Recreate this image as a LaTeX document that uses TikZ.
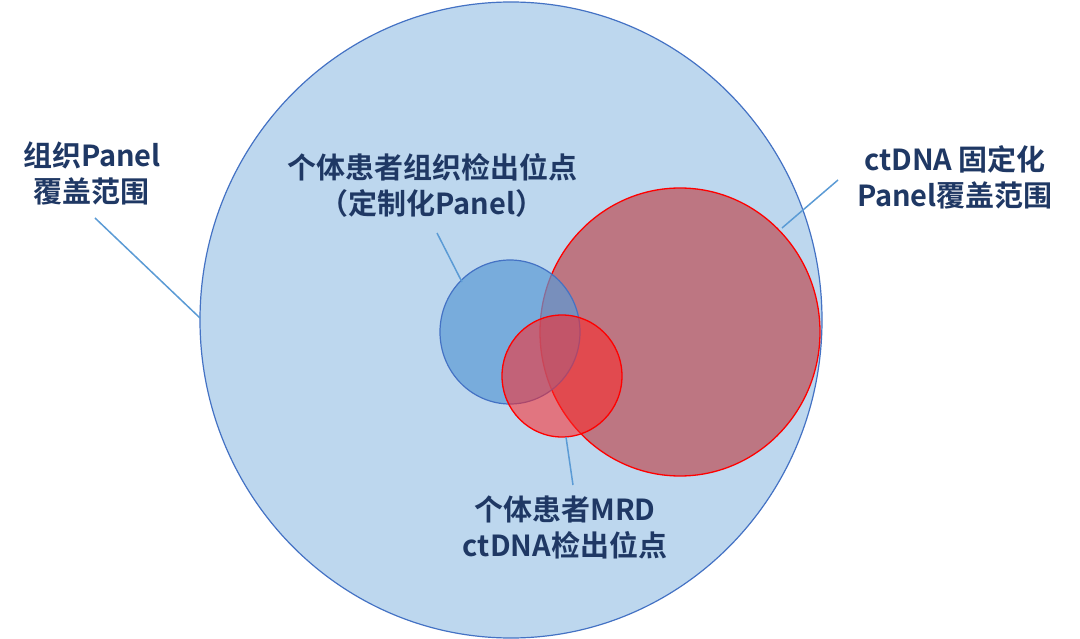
\documentclass[tikz,border=0pt]{standalone}
\usepackage{fontspec}
\setmainfont{Noto Sans CJK SC}[BoldFont={* Bold}]
\begin{document}
\begin{tikzpicture}[x=1pt,y=-1pt,
  lbl/.style={font=\bfseries\fontsize{29}{36}\selectfont,text=navy,align=center,inner sep=0},
  lead/.style={draw=lineblue,line width=1.5pt}]
\definecolor{navy}{HTML}{1F3864}
\definecolor{lightblue}{HTML}{BDD7EE}
\definecolor{edgeblue}{HTML}{4472C4}
\definecolor{lineblue}{HTML}{5B9BD5}
\useasboundingbox (0,0) rectangle (1080,639);
\fill[white] (0,0) rectangle (1080,639);
\draw[edgeblue,fill=lightblue,line width=1.2pt] (511,320) ellipse [x radius=311,y radius=318];
\draw[red,fill=red!75!black,fill opacity=0.45,line width=1.3pt] (680,332) ellipse [x radius=140,y radius=144];
\draw[edgeblue,fill=lineblue,fill opacity=0.7,line width=1.2pt] (510,332) ellipse [x radius=70,y radius=72];
\draw[red,fill=red!85!white,fill opacity=0.55,line width=1.3pt] (562,376) ellipse [x radius=60,y radius=61];
\node[lbl] (t1) at (92,173) {组织Panel\\覆盖范围};
\node[lbl] (t2) at (432,185) {个体患者组织检出位点\\（定制化Panel）};
\node[lbl] (t3) at (955,177) {ctDNA 固定化\\Panel覆盖范围};
\node[lbl] (t4) at (565,527) {个体患者MRD\\ctDNA检出位点};
\coordinate (a1) at (95,218); \coordinate (b1) at (200,318);
\coordinate (a2) at (437,233); \coordinate (b2) at (462,282);
\coordinate (a3) at (838,180); \coordinate (b3) at (782,228);
\coordinate (a4) at (566,437); \coordinate (b4) at (573,485);
\draw[lead] (a1)--(b1); \draw[lead] (a2)--(b2);
\draw[lead] (a3)--(b3); \draw[lead] (a4)--(b4);
\end{tikzpicture}
\end{document}
